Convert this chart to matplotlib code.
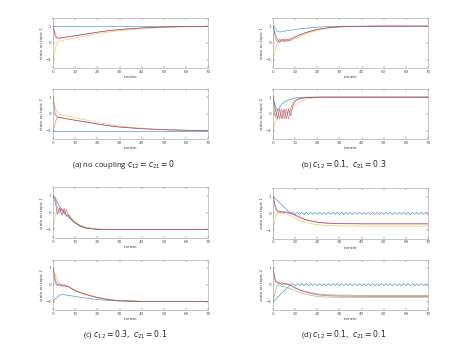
import matplotlib
matplotlib.use("Agg")
import matplotlib.pyplot as plt

# MATLAB default line colours
BLUE   = '#0072BD'
ORANGE = '#D95319'
YELLOW = '#EDB120'
PURPLE = '#7E2F8E'
GREEN  = '#77AC30'

T = [0, 1, 2, 3, 4, 5, 6, 7, 8, 9, 10, 12, 15, 20, 25, 30, 40, 50, 60, 70]
T_FULL = list(range(71))

# (a) no coupling
a1_blue   = [1.0, 1.0, 1.0, 1.0, 1.0, 1.0, 1.0, 1.0, 1.0, 1.0, 1.0, 1.0, 1.0, 1.0, 1.0, 1.0, 1.0, 1.0, 1.0, 1.0]
a1_purple = [1.0, 0.35, 0.27, 0.29, 0.31, 0.33, 0.35, 0.37, 0.39, 0.41, 0.43, 0.47, 0.53, 0.64, 0.73, 0.8, 0.89, 0.95, 0.98, 0.99]
a1_orange = [1.0, 0.55, 0.27, 0.29, 0.31, 0.33, 0.35, 0.37, 0.39, 0.41, 0.43, 0.47, 0.53, 0.64, 0.73, 0.8, 0.89, 0.95, 0.98, 0.99]
a1_yellow = [-1.0, -0.35, 0.08, 0.11, 0.14, 0.17, 0.2, 0.22, 0.25, 0.27, 0.3, 0.35, 0.42, 0.55, 0.65, 0.73, 0.85, 0.92, 0.96, 0.98]

a2_blue   = [-1.0, -1.0, -1.0, -1.0, -1.0, -1.0, -1.0, -1.0, -1.0, -1.0, -1.0, -1.0, -1.0, -1.0, -1.0, -1.0, -1.0, -1.0, -1.0, -1.0]
a2_purple = [1.0, -0.05, -0.18, -0.2, -0.23, -0.26, -0.28, -0.31, -0.33, -0.35, -0.38, -0.42, -0.48, -0.6, -0.7, -0.78, -0.88, -0.94, -0.97, -0.99]
a2_orange = [-1.0, -0.5, -0.18, -0.2, -0.23, -0.26, -0.28, -0.31, -0.33, -0.35, -0.38, -0.42, -0.48, -0.6, -0.7, -0.78, -0.88, -0.94, -0.97, -0.99]
a2_yellow = [1.0, 0.4, 0.0, -0.03, -0.06, -0.09, -0.12, -0.15, -0.18, -0.2, -0.23, -0.28, -0.36, -0.5, -0.62, -0.72, -0.85, -0.93, -0.97, -0.99]

# (b) c12 = 0.1, c21 = 0.3
b1_blue   = [1.0, 0.85, 0.7, 0.65, 0.67, 0.7, 0.72, 0.74, 0.76, 0.78, 0.8, 0.84, 0.88, 0.94, 0.97, 0.99, 1.0, 1.0, 1.0, 1.0]
b1_orange = [1.0, 0.3, 0.05, 0.22, 0.08, 0.24, 0.1, 0.25, 0.15, 0.28, 0.35, 0.47, 0.62, 0.8, 0.9, 0.96, 0.99, 1.0, 1.0, 1.0]
b1_purple = [1.0, 0.5, 0.22, 0.06, 0.23, 0.08, 0.25, 0.12, 0.28, 0.3, 0.36, 0.48, 0.63, 0.81, 0.91, 0.96, 0.99, 1.0, 1.0, 1.0]
b1_yellow = [-1.0, -0.4, 0.0, 0.05, 0.08, 0.1, 0.12, 0.14, 0.16, 0.2, 0.25, 0.38, 0.55, 0.76, 0.88, 0.95, 0.99, 1.0, 1.0, 1.0]

b2_blue   = [1.0, 0.5, 0.2, 0.4, 0.58, 0.7, 0.78, 0.84, 0.88, 0.92, 0.95, 0.98, 1.0, 1.0, 1.0, 1.0, 1.0, 1.0, 1.0, 1.0]
b2_orange = [1.0, -0.2, 0.3, -0.3, 0.3, -0.3, 0.3, -0.3, 0.35, 0.65, 0.82, 0.93, 0.98, 1.0, 1.0, 1.0, 1.0, 1.0, 1.0, 1.0]
b2_purple = [1.0, 0.3, -0.3, 0.3, -0.3, 0.3, -0.3, 0.3, -0.1, 0.5, 0.75, 0.9, 0.97, 1.0, 1.0, 1.0, 1.0, 1.0, 1.0, 1.0]
b2_yellow = [-1.0, -0.5, -0.2, -0.1, -0.05, 0.0, 0.05, 0.1, 0.2, 0.35, 0.5, 0.72, 0.88, 0.98, 1.0, 1.0, 1.0, 1.0, 1.0, 1.0]

# (c) c12 = 0.3, c21 = 0.1
c1_blue   = [1.0, 0.9, 0.6, 0.35, 0.15, 0.0, -0.15, -0.28, -0.4, -0.5, -0.6, -0.75, -0.9, -0.98, -1.0, -1.0, -1.0, -1.0, -1.0, -1.0]
c1_orange = [1.0, 0.8, 0.3, 0.0, 0.25, -0.1, 0.2, -0.2, -0.35, -0.5, -0.6, -0.78, -0.92, -0.99, -1.0, -1.0, -1.0, -1.0, -1.0, -1.0]
c1_purple = [1.0, 0.6, -0.1, 0.3, -0.15, 0.25, -0.2, -0.15, -0.35, -0.5, -0.62, -0.8, -0.93, -1.0, -1.0, -1.0, -1.0, -1.0, -1.0, -1.0]
c1_yellow = [-1.0, -0.2, 0.2, 0.15, 0.1, 0.05, 0.0, -0.1, -0.25, -0.4, -0.52, -0.72, -0.88, -0.98, -1.0, -1.0, -1.0, -1.0, -1.0, -1.0]

c2_blue   = [-1.0, -0.85, -0.72, -0.62, -0.58, -0.6, -0.62, -0.64, -0.66, -0.68, -0.7, -0.74, -0.8, -0.88, -0.94, -0.97, -1.0, -1.0, -1.0, -1.0]
c2_orange = [1.0, 0.3, 0.0, -0.05, 0.0, -0.1, -0.05, -0.15, -0.2, -0.28, -0.35, -0.45, -0.58, -0.76, -0.88, -0.95, -0.99, -1.0, -1.0, -1.0]
c2_purple = [1.0, 0.1, -0.05, 0.05, -0.1, 0.0, -0.12, -0.1, -0.22, -0.3, -0.37, -0.47, -0.6, -0.77, -0.89, -0.95, -0.99, -1.0, -1.0, -1.0]
c2_yellow = [1.0, 0.6, 0.2, 0.05, -0.02, -0.05, -0.08, -0.12, -0.18, -0.25, -0.3, -0.42, -0.56, -0.75, -0.87, -0.94, -0.99, -1.0, -1.0, -1.0]

# (d) c12 = 0.1, c21 = 0.1  (blue keeps wobbling round 0, every iterate)
d1_blue = [1.0, 0.88, 0.75, 0.62, 0.5, 0.38, 0.25, 0.12, 0.0,
           0.06, -0.06, 0.06, -0.06, 0.06, -0.06, 0.06, -0.06, 0.06, -0.06,
           0.06, -0.06, 0.06, -0.06, 0.06, -0.06, 0.06, -0.06, 0.06, -0.06,
           0.06, -0.06, 0.06, -0.06, 0.06, -0.06, 0.06, -0.06, 0.06, -0.06,
           0.06, -0.06, 0.06, -0.06, 0.06, -0.06, 0.06, -0.06, 0.06, -0.06,
           0.06, -0.06, 0.06, -0.06, 0.06, -0.06, 0.06, -0.06, 0.06, -0.06,
           0.06, -0.06, 0.06, -0.06, 0.06, -0.06, 0.06, -0.06, 0.06, -0.06,
           0.06, -0.06]
d1_orange = [1.0, 0.5, 0.1, 0.15, 0.05, 0.12, 0.05, 0.08, 0.0, -0.05, -0.12, -0.25, -0.4, -0.55, -0.6, -0.62, -0.63, -0.63, -0.63, -0.63]
d1_purple = [1.0, 0.3, 0.15, 0.05, 0.12, 0.02, 0.1, 0.0, 0.02, -0.05, -0.1, -0.22, -0.38, -0.52, -0.58, -0.6, -0.62, -0.62, -0.62, -0.62]
d1_yellow = [-1.0, -0.3, 0.05, 0.02, 0.0, -0.02, -0.05, -0.1, -0.15, -0.2, -0.28, -0.42, -0.55, -0.68, -0.73, -0.75, -0.76, -0.76, -0.76, -0.76]

d2_blue = [-1.0, -0.88, -0.75, -0.62, -0.5, -0.38, -0.25, -0.12, 0.0,
           0.06, -0.06, 0.06, -0.06, 0.06, -0.06, 0.06, -0.06, 0.06, -0.06,
           0.06, -0.06, 0.06, -0.06, 0.06, -0.06, 0.06, -0.06, 0.06, -0.06,
           0.06, -0.06, 0.06, -0.06, 0.06, -0.06, 0.06, -0.06, 0.06, -0.06,
           0.06, -0.06, 0.06, -0.06, 0.06, -0.06, 0.06, -0.06, 0.06, -0.06,
           0.06, -0.06, 0.06, -0.06, 0.06, -0.06, 0.06, -0.06, 0.06, -0.06,
           0.06, -0.06, 0.06, -0.06, 0.06, -0.06, 0.06, -0.06, 0.06, -0.06,
           0.06, -0.06]
d2_orange = [1.0, 0.3, 0.1, 0.05, 0.12, 0.03, 0.08, 0.0, -0.05, -0.1, -0.18, -0.3, -0.42, -0.55, -0.6, -0.62, -0.63, -0.63, -0.63, -0.63]
d2_purple = [1.0, 0.2, 0.15, 0.1, 0.0, 0.1, 0.0, 0.05, -0.05, -0.12, -0.2, -0.32, -0.45, -0.6, -0.66, -0.68, -0.69, -0.69, -0.69, -0.69]
d2_green  = [-1.0, -0.4, 0.0, -0.05, -0.1, -0.12, -0.15, -0.2, -0.25, -0.3, -0.36, -0.47, -0.58, -0.7, -0.74, -0.75, -0.76, -0.76, -0.76, -0.76]

CAPTIONS = [r'(a) no coupling $c_{12}=c_{21}=0$',
            r'(b) $c_{12}=0.1,\ c_{21}=0.3$',
            r'(c) $c_{12}=0.3,\ c_{21}=0.1$',
            r'(d) $c_{12}=0.1,\ c_{21}=0.1$']


def drawState(ax, lines, ylabel):
    for x, y, col in lines:
        ax.plot(x, y, color=col, lw=0.5, alpha=0.7)
    ax.set_xlim(0, 70)
    ax.set_ylim(-1.5, 1.5)
    ax.set_xticks(range(0, 71, 10))
    ax.set_yticks([-1, 0, 1])
    ax.tick_params(direction='in', length=1.5, width=0.3, labelsize=3,
                   pad=1.2, top=True, right=True, colors='#555555')
    ax.set_xlabel('iterate', fontsize=3, labelpad=1, color='#444444')
    ax.set_ylabel(ylabel, fontsize=3, labelpad=1, color='#444444')
    for s in ax.spines.values():
        s.set_linewidth(0.4)
        s.set_color('#999999')


fig = plt.figure(figsize=(4.74, 3.55), dpi=100)

# axes boxes [left, bottom, width, height] in figure fraction
W = 0.327
H = 0.142
boxes = {
    'a1': [0.112, 0.808, W, H], 'a2': [0.112, 0.608, W, H],
    'b1': [0.576, 0.808, W, H], 'b2': [0.576, 0.608, W, H],
    'c1': [0.112, 0.330, W, H], 'c2': [0.112, 0.127, W, H],
    'd1': [0.576, 0.328, W, H], 'd2': [0.576, 0.127, W, H],
}

data = {
    'a1': [(T, a1_blue, BLUE), (T, a1_orange, ORANGE), (T, a1_yellow, YELLOW), (T, a1_purple, PURPLE)],
    'a2': [(T, a2_blue, BLUE), (T, a2_orange, ORANGE), (T, a2_yellow, YELLOW), (T, a2_purple, PURPLE)],
    'b1': [(T, b1_blue, BLUE), (T, b1_orange, ORANGE), (T, b1_yellow, YELLOW), (T, b1_purple, PURPLE)],
    'b2': [(T, b2_blue, BLUE), (T, b2_orange, ORANGE), (T, b2_yellow, YELLOW), (T, b2_purple, PURPLE)],
    'c1': [(T, c1_blue, BLUE), (T, c1_orange, ORANGE), (T, c1_yellow, YELLOW), (T, c1_purple, PURPLE)],
    'c2': [(T, c2_blue, BLUE), (T, c2_orange, ORANGE), (T, c2_yellow, YELLOW), (T, c2_purple, PURPLE)],
    'd1': [(T_FULL, d1_blue, BLUE), (T, d1_orange, ORANGE), (T, d1_yellow, YELLOW), (T, d1_purple, PURPLE)],
    'd2': [(T_FULL, d2_blue, BLUE), (T, d2_orange, ORANGE), (T, d2_green, GREEN), (T, d2_purple, PURPLE)],
}

for key in ['a1', 'a2', 'b1', 'b2', 'c1', 'c2', 'd1', 'd2']:
    ax = fig.add_axes(boxes[key])
    drawState(ax, data[key], 'state on topic ' + key[1])

# captions under each pair
capx = [0.260, 0.726, 0.264, 0.726]
capy = [0.538, 0.538, 0.059, 0.059]
for i in range(4):
    fig.text(capx[i], capy[i], CAPTIONS[i], ha='center', va='center',
             fontsize=5.6, family='Open Sans', color='#222222')

fig.savefig('out.png', dpi=100)
